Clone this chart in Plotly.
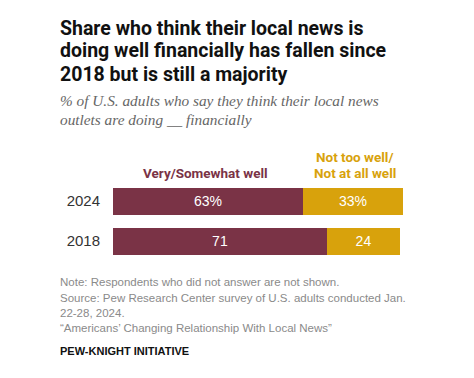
import plotly.graph_objects as go

W, H = 474, 378
OFF = 8  # page body margin compensation

years = ["2018", "2024"]
well = [71, 63]
not_well = [24, 33]
well_labels = ["71", "63%"]
not_well_labels = ["24", "33%"]

title_lines = [
    "Share who think their local news is",
    "doing well financially has fallen since",
    "2018 but is still a majority",
]
subtitle_lines = [
    "% of U.S. adults who say they think their local news",
    "outlets are doing __ financially",
]
note_lines = [
    "Note: Respondents who did not answer are not shown.",
    "Source: Pew Research Center survey of U.S. adults conducted Jan.",
    "22-28, 2024.",
    "\u201cAmericans\u2019 Changing Relationship With Local News\u201d",
]
brand = "PEW-KNIGHT INITIATIVE"

MAROON = "#7A3346"
GOLD = "#D8A20C"

def px(x):
    return (x - OFF) / W

def py(y):
    return 1 - (y - OFF) / H

fig = go.Figure()
fig.add_trace(go.Bar(
    y=years, x=well, orientation="h", marker=dict(color=MAROON, line=dict(width=0)),
    text=well_labels, textposition="inside", insidetextanchor="middle",
    textfont=dict(color="white", size=14, family="Liberation Sans, Arial"),
    width=0.675, hoverinfo="skip",
))
fig.add_trace(go.Bar(
    y=years, x=not_well, orientation="h", marker=dict(color=GOLD, line=dict(width=0)),
    text=not_well_labels, textposition="inside", insidetextanchor="middle",
    textfont=dict(color="white", size=14, family="Liberation Sans, Arial"),
    width=0.675, hoverinfo="skip",
))

annotations = []
title_y = [28, 51, 74]
for line, y in zip(title_lines, title_y):
    annotations.append(dict(text="<b>" + line + "</b>", x=px(58), y=py(y), xref="paper", yref="paper",
                            xanchor="left", yanchor="middle", showarrow=False,
                            font=dict(family="Roboto, Liberation Sans, Arial", size=19.5, color="#111111")))
sub_y = [100, 119]
for line, y in zip(subtitle_lines, sub_y):
    annotations.append(dict(text="<i>" + line + "</i>", x=px(58), y=py(y), xref="paper", yref="paper",
                            xanchor="left", yanchor="middle", showarrow=False,
                            font=dict(family="Liberation Serif, Times New Roman, serif", size=15.3, color="#666666")))
note_y = [282, 298, 313, 328]
for line, y in zip(note_lines, note_y):
    annotations.append(dict(text=line, x=px(58), y=py(y), xref="paper", yref="paper",
                            xanchor="left", yanchor="middle", showarrow=False,
                            font=dict(family="Liberation Sans, Arial", size=11.5, color="#8a8a8a")))
annotations.append(dict(text="<b>" + brand + "</b>", x=px(58), y=py(351), xref="paper", yref="paper",
                        xanchor="left", yanchor="middle", showarrow=False,
                        font=dict(family="Liberation Sans, Arial", size=11, color="#111111")))
# category labels above bars
annotations.append(dict(text="<b>Very/Somewhat well</b>", x=px(205), y=py(173), xref="paper", yref="paper",
                        xanchor="center", yanchor="middle", showarrow=False,
                        font=dict(family="Roboto, Liberation Sans, Arial", size=13.5, color=MAROON)))
annotations.append(dict(text="<b>Not too well/</b>", x=px(354), y=py(157), xref="paper", yref="paper",
                        xanchor="center", yanchor="middle", showarrow=False,
                        font=dict(family="Roboto, Liberation Sans, Arial", size=13.5, color=GOLD)))
annotations.append(dict(text="<b>Not at all well</b>", x=px(355), y=py(173), xref="paper", yref="paper",
                        xanchor="center", yanchor="middle", showarrow=False,
                        font=dict(family="Roboto, Liberation Sans, Arial", size=13.5, color=GOLD)))

fig.update_layout(
    width=W, height=H, margin=dict(l=0, r=0, t=0, b=0),
    paper_bgcolor="white", plot_bgcolor="white",
    barmode="stack", showlegend=False, bargap=0,
    xaxis=dict(domain=[px(113), px(113 + 302)], range=[0, 100], visible=False, fixedrange=True),
    yaxis=dict(domain=[py(260.5), py(180.5)], range=[-0.5, 1.5], type="category",
               categoryorder="array", categoryarray=years,
               showgrid=False, zeroline=False, showline=False, ticks="",
               ticklabelstandoff=12,
               tickfont=dict(family="Liberation Sans, Arial", size=15, color="#333333")),
    annotations=annotations,
    uniformtext=dict(mode=False),
)

fig.write_html("out.html")
